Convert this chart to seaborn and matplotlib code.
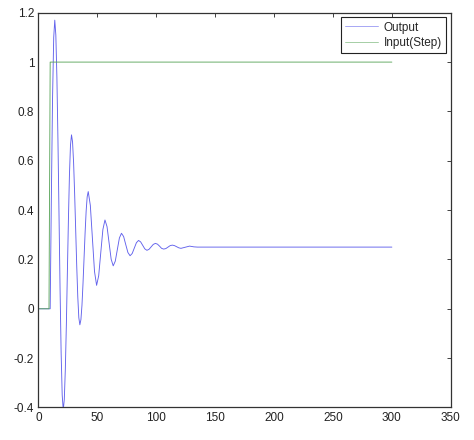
import pandas as pd
import matplotlib
matplotlib.use("Agg")
import matplotlib.pyplot as plt
import seaborn as sns

# Step response (time, value)
out_t = [0, 10, 11, 12, 13, 13.9, 14.8, 15.7, 16.6, 17.5, 18.4, 19.3, 20.2, 21.1,
         21.98, 22.85, 23.73, 24.6, 25.48, 26.35, 27.23, 28.1,
         28.99, 29.88, 30.76, 31.65, 32.54, 33.43, 34.31, 35.2,
         36.09, 36.98, 37.86, 38.75, 39.64, 40.53, 41.41, 42.3,
         44.08, 45.85, 47.63, 49.4,
         51.18, 52.95, 54.73, 56.5,
         58.25, 60.0, 61.75, 63.5,
         65.25, 67.0, 68.75, 70.5,
         72.33, 74.15, 75.98, 77.8,
         79.6, 81.4, 83.2, 85.0,
         86.8, 88.55, 90.3, 92.1,
         93.9, 95.7, 97.5, 99.3,
         101.05, 102.8, 104.55, 106.3,
         108.15, 110.0, 111.85, 113.7,
         115.5, 117.35, 119.2, 121.0,
         124.65, 128.3, 132, 135, 200, 300]
out_y = [0, 0, 0.45, 0.85, 1.10, 1.17, 1.11, 0.939, 0.683, 0.38, 0.077, -0.179, -0.35, -0.41,
         -0.368, -0.247, -0.066, 0.148, 0.361, 0.542, 0.663, 0.705,
         0.676, 0.592, 0.467, 0.32, 0.173, 0.048, -0.036, -0.065,
         -0.044, 0.014, 0.102, 0.205, 0.308, 0.396, 0.454, 0.475,
         0.419, 0.285, 0.151, 0.095,
         0.134, 0.228, 0.321, 0.36,
         0.333, 0.267, 0.201, 0.174,
         0.193, 0.24, 0.287, 0.306,
         0.293, 0.26, 0.228, 0.215,
         0.224, 0.246, 0.268, 0.277,
         0.271, 0.257, 0.243, 0.237,
         0.241, 0.251, 0.261, 0.265,
         0.262, 0.254, 0.245, 0.242,
         0.244, 0.25, 0.256, 0.258,
         0.256, 0.2515, 0.247, 0.245,
         0.2495, 0.254, 0.251, 0.25, 0.25, 0.25]

in_t = [0, 9, 10, 300]
in_y = [0, 0, 1, 1]

x_ticks = [0, 50, 100, 150, 200, 250, 300, 350]
y_ticks = [-0.4, -0.2, 0, 0.2, 0.4, 0.6, 0.8, 1, 1.2]
y_labels = ["-0.4", "-0.2", "0", "0.2", "0.4", "0.6", "0.8", "1", "1.2"]

df = pd.concat([
    pd.DataFrame({"t": out_t, "y": out_y, "series": "Output"}),
    pd.DataFrame({"t": in_t, "y": in_y, "series": "Input(Step)"}),
], ignore_index=True)

sns.set_theme(style="white")
plt.rcParams["font.family"] = ["Liberation Sans", "DejaVu Sans"]

fig = plt.figure(figsize=(4.74, 4.40), dpi=100)
ax = fig.add_axes([0.081, 0.074, 0.870, 0.897])

sns.lineplot(data=df, x="t", y="y", hue="series", estimator=None, sort=False,
             palette={"Output": "#6262ec", "Input(Step)": "#5fa85f"},
             linewidth=0.65, ax=ax)

ax.set_xlim(0, 350)
ax.set_ylim(-0.4, 1.2)
ax.set_xticks(x_ticks)
ax.set_yticks(y_ticks)
ax.set_yticklabels(y_labels)
ax.set_xlabel("")
ax.set_ylabel("")
ax.tick_params(direction="in", length=3, width=0.6, top=True, right=True,
               labelsize=8.5, colors="#222222", pad=3)
for s in ax.spines.values():
    s.set_color("#333333")
    s.set_linewidth(0.9)

leg = ax.legend(loc="upper right", fontsize=8.5, frameon=True, fancybox=False,
                borderaxespad=0.4, handlelength=2.8, handletextpad=0.5,
                borderpad=0.35, labelspacing=0.3)
leg.get_frame().set_edgecolor("#222222")
leg.get_frame().set_linewidth(0.8)
leg.get_frame().set_alpha(1)
for line in leg.get_lines():
    line.set_alpha(0.6)

fig.savefig("out.png", dpi=100)
